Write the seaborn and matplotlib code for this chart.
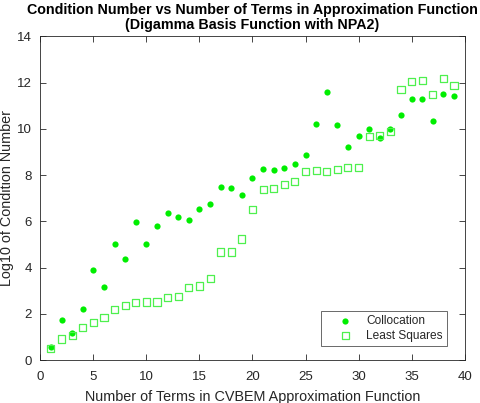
import numpy as np
import pandas as pd
import matplotlib
matplotlib.use("Agg")
import matplotlib.pyplot as plt
import seaborn as sns


# -----------------------------
# Data
# -----------------------------
n_terms = list(range(1, 40))

collocation = [
    0.56, 1.73, 1.19, 2.23, 3.89, 3.18, 5.02, 4.37, 5.97, 5.02,
    5.81, 6.38, 6.18, 6.05, 6.53, 6.77, 7.48, 7.44, 7.16, 7.88,
    8.28, 8.21, 8.31, 8.46, 8.89, 10.20, 11.61, 10.17, 9.21, 9.68,
    9.99, 9.61, 10.00, 10.59, 11.27, 11.30, 10.32, 11.51, 11.44
]

least_squares = [
    0.49, 0.92, 1.08, 1.40, 1.64, 1.86, 2.19, 2.38, 2.49, 2.52,
    2.52, 2.72, 2.77, 3.14, 3.21, 3.52, 4.68, 4.68, 5.24, 6.50,
    7.39, 7.42, 7.58, 7.74, 8.17, 8.20, 8.17, 8.26, 8.31, 8.31,
    9.67, 9.73, 9.87, 11.70, 12.06, 12.10, 11.48, 12.19, 11.86
]

x_ticks = [0, 5, 10, 15, 20, 25, 30, 35, 40]
y_ticks = [0, 2, 4, 6, 8, 10, 12, 14]


def main():

    sns.set_style("ticks")
    plt.rcParams["font.family"] = ["Liberation Sans", "DejaVu Sans"]

    df = pd.DataFrame({
        "terms": n_terms,
        "collocation": collocation,
        "least_squares": least_squares,
    })

    fig = plt.figure(figsize=(4.8, 4.03), dpi=100)
    ax = fig.add_axes([0.084, 0.106, 0.884, 0.804])

    sns.scatterplot(
        data=df, x="terms", y="collocation", ax=ax,
        marker="o", s=20, color="#00ee00", edgecolor="#00ee00",
        linewidth=0, label="Collocation"
    )
    sns.scatterplot(
        data=df, x="terms", y="least_squares", ax=ax,
        marker="s", s=26, facecolor="none", edgecolor="#4ef04e",
        linewidth=0.9, label="Least Squares"
    )

    ax.set_xlim(0, 40)
    ax.set_ylim(0, 14)
    ax.set_xticks(x_ticks)
    ax.set_yticks(y_ticks)

    dark = "#262626"
    for side in ["top", "right", "bottom", "left"]:
        ax.spines[side].set_visible(True)
        ax.spines[side].set_color(dark)
        ax.spines[side].set_linewidth(0.6)

    ax.tick_params(
        direction="in", length=4, width=0.6, colors=dark,
        labelsize=9.5, top=True, right=True
    )
    ax.tick_params(axis="x", pad=8)
    ax.tick_params(axis="y", pad=6)

    ax.set_xlabel("Number of Terms in CVBEM Approximation Function",
                  fontsize=10.4, color=dark, labelpad=5)
    ax.set_ylabel("Log10 of Condition Number",
                  fontsize=10.4, color=dark)
    ax.yaxis.set_label_coords(-0.061, 0.5)
    ax.set_title("Condition Number vs Number of Terms in Approximation Function\n"
                 "(Digamma Basis Function with NPA2)",
                 fontsize=10.3, fontweight="bold", color="black",
                 pad=5, linespacing=1.12)

    leg = ax.legend(
        loc="lower right", fontsize=8.6, frameon=True, fancybox=False,
        borderpad=0.35, handletextpad=0.1, handlelength=3.3,
        labelspacing=0.2, borderaxespad=0,
        bbox_to_anchor=(0.958, 0.044)
    )
    leg.get_frame().set_edgecolor(dark)
    leg.get_frame().set_linewidth(0.6)

    fig.savefig("out.png", dpi=100, facecolor="white")


if __name__ == "__main__":
    main()
